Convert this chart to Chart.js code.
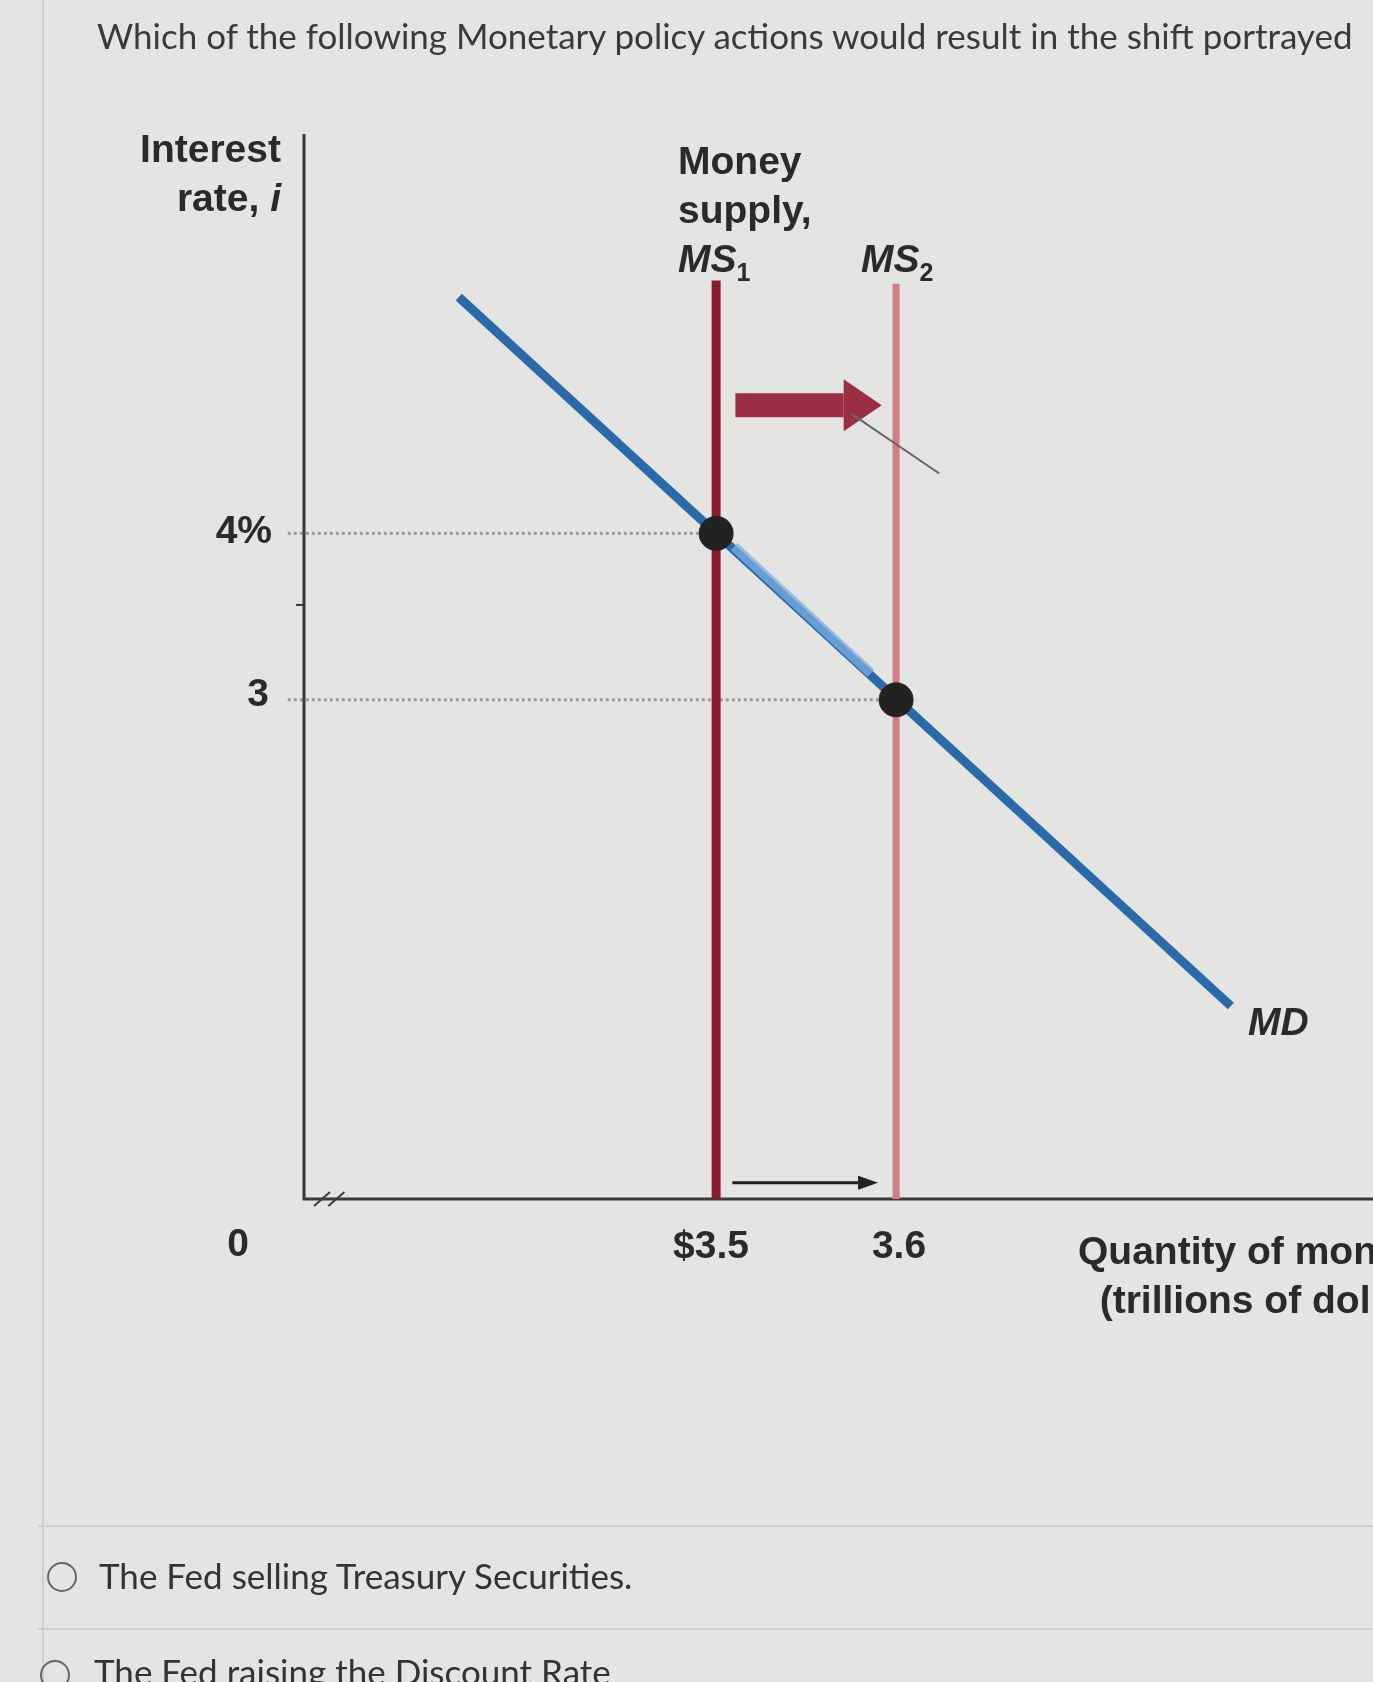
<!DOCTYPE html>
<html><head><meta charset="utf-8">
<script src="https://cdn.jsdelivr.net/npm/chart.js@4"></script>
<style>
html,body{margin:0;padding:0;width:1373px;height:1682px;overflow:hidden;background:#e4e4e2;font-family:"Liberation Sans",Arial,sans-serif;}
.t{position:absolute;white-space:nowrap;color:#2a2a2a;}
.b{font-weight:bold;font-size:39px;line-height:49px;}
#c{position:absolute;left:0;top:0;}
</style></head><body>
<canvas id="c" width="1373" height="1682"></canvas>
<div class="t" style="left:97px;top:14px;font-family:Lato,'Open Sans',sans-serif;font-size:35px;color:#3a3a3a;">Which of the following Monetary policy actions would result in the shift portrayed</div>
<div style="position:absolute;left:42px;top:0;width:2px;height:1682px;background:#cfcfcd"></div>
<div class="t b" style="left:100px;width:181px;text-align:right;top:124px;">Interest<br>rate, <i>i</i></div>
<div class="t b" style="left:678px;top:136px;">Money<br>supply,<br><i>MS</i><sub style="font-size:25px">1</sub></div>
<div class="t b" style="left:861px;top:234px;"><i>MS</i><sub style="font-size:25px">2</sub></div>
<div class="t b" style="left:180px;width:92px;text-align:right;top:505px;">4%</div>
<div class="t b" style="left:180px;width:89px;text-align:right;top:668px;">3</div>
<div class="t b" style="left:218px;width:40px;text-align:center;top:1218px;">0</div>
<div class="t b" style="left:651px;width:120px;text-align:center;top:1220px;">$3.5</div>
<div class="t b" style="left:839px;width:120px;text-align:center;top:1220px;">3.6</div>
<div class="t b" style="left:1078px;top:1226px;">Quantity of money<br>&nbsp;&nbsp;(trillions of dollars)</div>
<div class="t b" style="left:1248px;top:997px;"><i>MD</i></div>
<div style="position:absolute;left:38px;top:1525px;width:1335px;height:2px;background:#cfcfcd"></div>
<div style="position:absolute;left:38px;top:1628px;width:1335px;height:2px;background:#cfcfcd"></div>
<div style="position:absolute;left:47px;top:1562px;width:26px;height:26px;border:2px solid #666;border-radius:50%"></div>
<div class="t" style="left:99px;top:1554px;font-family:Lato,'Open Sans',sans-serif;font-size:35px;color:#333;">The Fed selling Treasury Securities.</div>
<div style="position:absolute;left:40px;top:1660px;width:26px;height:26px;border:2px solid #666;border-radius:50%"></div>
<div class="t" style="left:94px;top:1650px;font-family:Lato,'Open Sans',sans-serif;font-size:35px;color:#333;">The Fed raising the Discount Rate</div>
<script>
const msX = [3.5, 3.6];
const msTop = [5.52, 5.50];
const mdX = [3.357, 3.786];
const mdY = [5.42, 1.16];
const eqX = [3.5, 3.6];
const eqY = [4, 3];
const X_MIN = 3.271, X_MAX = 3.855, Y_MAX = 6.4;

const arrowPlugin = {
  id: 'arrows',
  afterDatasetsDraw(chart) {
    const {ctx, scales:{x, y}} = chart;
    const P=(a,b)=>[x.getPixelForValue(a),y.getPixelForValue(b)];
    function arrow(x1,y1,x2,y2,color,w,head,hw){
      const p1=P(x1,y1), p2=P(x2,y2);
      const a=Math.atan2(p2[1]-p1[1],p2[0]-p1[0]);
      const bx=p2[0]-head*Math.cos(a), by=p2[1]-head*Math.sin(a);
      ctx.save();ctx.strokeStyle=color;ctx.fillStyle=color;ctx.lineWidth=w;
      ctx.beginPath();ctx.moveTo(p1[0],p1[1]);ctx.lineTo(bx,by);ctx.stroke();
      ctx.beginPath();ctx.moveTo(p2[0],p2[1]);
      ctx.lineTo(bx+hw*Math.sin(a),by-hw*Math.cos(a));ctx.lineTo(bx-hw*Math.sin(a),by+hw*Math.cos(a));ctx.closePath();ctx.fill();
      ctx.restore();
    }
    arrow(3.5107,4.77,3.592,4.77,'#9a2f42',24,38,26);
    arrow(3.509,0.097,3.59,0.097,'#222',3,20,7);
    ctx.save();ctx.strokeStyle='#666';ctx.lineWidth=2;
    let a=P(3.575,4.72), b=P(3.624,4.36);
    ctx.beginPath();ctx.moveTo(a[0],a[1]);ctx.lineTo(b[0],b[1]);ctx.stroke();
    // axis break marks and tick
    ctx.strokeStyle='#3a3a3a';ctx.lineWidth=2;
    [3.281,3.289].forEach(v=>{const p=P(v,0);ctx.beginPath();ctx.moveTo(p[0]-8,p[1]+7);ctx.lineTo(p[0]+8,p[1]-7);ctx.stroke();});
    const t=P(X_MIN,3.57);ctx.beginPath();ctx.moveTo(t[0]-8,t[1]);ctx.lineTo(t[0],t[1]);ctx.stroke();
    ctx.restore();
  }
};

new Chart(document.getElementById('c'), {
  type: 'scatter',
  data: { datasets: [
    {order:6,data:[{x:3.262,y:eqY[0]},{x:eqX[0],y:eqY[0]}], showLine:true, borderColor:'#9a9a9a', borderWidth:3, borderDash:[3,3], pointRadius:0},
    {order:6,data:[{x:3.262,y:eqY[1]},{x:eqX[1],y:eqY[1]}], showLine:true, borderColor:'#9a9a9a', borderWidth:3, borderDash:[3,3], pointRadius:0},
    {order:5,data:[{x:X_MIN,y:Y_MAX},{x:X_MIN,y:0},{x:3.9,y:0}], showLine:true, borderColor:'#3a3a3a', borderWidth:3, pointRadius:0},
    {order:4,data:[{x:msX[1],y:0},{x:msX[1],y:msTop[1]}], showLine:true, borderColor:'#d27c86', borderWidth:7, pointRadius:0},
    {order:3,data:[{x:msX[0],y:0},{x:msX[0],y:msTop[0]}], showLine:true, borderColor:'#8c1c30', borderWidth:9, pointRadius:0},
    {order:2,data:[{x:mdX[0],y:mdY[0]},{x:mdX[1],y:mdY[1]}], showLine:true, borderColor:'#2a6aa8', borderWidth:9, pointRadius:0},
    {order:1,data:[{x:3.51,y:3.92},{x:3.586,y:3.16}], showLine:true, borderColor:'rgba(125,175,225,0.75)', borderWidth:10, pointRadius:0},
    {order:0,data:eqX.map((v,i)=>({x:v,y:eqY[i]})), showLine:false, backgroundColor:'#222', borderColor:'#222', pointRadius:17}
  ]},
  options: {
    responsive:false, animation:false, clip:false,
    layout:{padding:{left:304,top:134,right:0,bottom:483}},
    plugins:{legend:{display:false},tooltip:{enabled:false}},
    scales:{
      x:{type:'linear',min:X_MIN,max:X_MAX,display:false},
      y:{type:'linear',min:0,max:Y_MAX,display:false}
    }
  },
  plugins:[arrowPlugin]
});
</script>
</body></html>
